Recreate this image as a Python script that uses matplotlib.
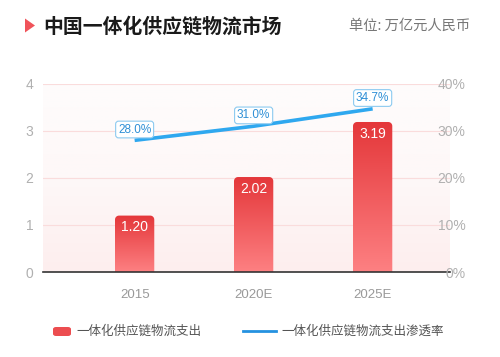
import numpy as np
import matplotlib
matplotlib.use("Agg")
import matplotlib.pyplot as plt
from matplotlib.patches import FancyBboxPatch, Polygon, PathPatch
from matplotlib.path import Path
from matplotlib.colors import LinearSegmentedColormap
from matplotlib.lines import Line2D

plt.rcParams['font.family'] = ['Noto Sans CJK SC', 'DejaVu Sans']

categories = ['2015', '2020E', '2025E']
spend = [1.20, 2.02, 3.19]
penetration = [28.0, 31.0, 34.7]
left_ticks = [0, 1, 2, 3, 4]
right_ticks = [0, 10, 20, 30, 40]
title = '中国一体化供应链物流市场'
unit = '单位: 万亿元人民币'
legend_bar = '一体化供应链物流支出'
legend_line = '一体化供应链物流支出渗透率'

NUM = ['Liberation Sans', 'DejaVu Sans']

fig = plt.figure(figsize=(5, 3.57), dpi=100)
fig.patch.set_facecolor('white')
ax = fig.add_axes([0.086, 0.238, 0.814, 0.527])
ax2 = ax.twinx()

x = np.arange(len(categories))
xlim = (-0.77, 2.65)
ylim = (0, 4)

# background gradient (white at top -> light pink at bottom)
bg = LinearSegmentedColormap.from_list('bg', ['#fefcfc', '#fef8f8', '#fdeeee'])
ax.imshow(np.linspace(0, 1, 200).reshape(-1, 1), extent=[xlim[0], xlim[1], ylim[0], ylim[1]],
          origin='upper', aspect='auto', cmap=bg, zorder=0)
ax.set_xlim(*xlim)
ax.set_ylim(*ylim)
for t in left_ticks[1:]:
    ax.axhline(t, color='#fadcdc', lw=0.8, zorder=1)

# bars with vertical gradient and rounded top corners
bar_cmap = LinearSegmentedColormap.from_list('bar', ['#e4373a', '#fd8082'])
w = 0.33
ax_w_px = 0.814 * 500
ax_h_px = 0.527 * 357
rx = 4.0 * (xlim[1] - xlim[0]) / ax_w_px
ry = 4.0 * (ylim[1] - ylim[0]) / ax_h_px


def rounded_top_path(x0, x1, top):
    pts = [(x0, 0), (x1, 0), (x1, top - ry)]
    th = np.linspace(0, np.pi / 2, 8)
    for t in th:
        pts.append((x1 - rx + rx * np.cos(t), top - ry + ry * np.sin(t)))
    for t in th:
        pts.append((x0 + rx + rx * np.cos(np.pi / 2 + t), top - ry + ry * np.sin(np.pi / 2 + t)))
    pts.append((x0, 0))
    codes = [Path.MOVETO] + [Path.LINETO] * (len(pts) - 2) + [Path.CLOSEPOLY]
    return Path(pts, codes)


for xi, v in zip(x, spend):
    im = ax.imshow(np.linspace(0, 1, 200).reshape(-1, 1),
                   extent=[xi - w / 2, xi + w / 2, 0, v], origin='upper',
                   aspect='auto', cmap=bar_cmap, zorder=2)
    clip = PathPatch(rounded_top_path(xi - w / 2, xi + w / 2, v), transform=ax.transData,
                     facecolor='none', edgecolor='none')
    ax.add_patch(clip)
    im.set_clip_path(clip)
    ax.text(xi, v - 0.1, f'{v:.2f}', ha='center', va='top', color='white',
            fontsize=10, zorder=4, family=NUM)
ax.set_xlim(*xlim)
ax.set_ylim(*ylim)

# line on right axis
ax2.plot(x, penetration, color='#2fa8ef', lw=2.6, solid_capstyle='butt', zorder=5)
for xi, p in zip(x, penetration):
    ax2.text(xi, p + 2.3, f'{p:.1f}%', ha='center', va='center', color='#2e8fd6',
             fontsize=8.5, family=NUM, zorder=6,
             bbox=dict(boxstyle='round,pad=0.2,rounding_size=0.25', fc='white',
                       ec='#8ccaf0', lw=0.8))

ax.set_zorder(1)
ax2.set_zorder(2)
ax2.patch.set_visible(False)

ax.set_xticks(x)
ax.set_xticklabels(categories, family=NUM)
ax.set_yticks(left_ticks)
ax.set_yticklabels([str(t) for t in left_ticks], family=NUM)
ax2.set_yticks(right_ticks)
ax2.set_yticklabels([f'{t}%' for t in right_ticks], family=NUM, ha='right')
for a in (ax, ax2):
    a.tick_params(length=0, colors='#b0b0b0', labelsize=10)
    for s in a.spines.values():
        s.set_visible(False)
ax.tick_params(axis='x', pad=12, colors='#999999', labelsize=9.5)
ax.tick_params(axis='y', pad=7)
ax2.tick_params(axis='y', pad=11)
ax.spines['bottom'].set_visible(True)
ax.spines['bottom'].set_color('#333333')
ax.spines['bottom'].set_linewidth(1.2)

# title
fig.patches.append(Polygon([[25 / 500, 1 - 18.5 / 357], [25 / 500, 1 - 32.5 / 357], [35 / 500, 1 - 25.5 / 357]],
                           closed=True, transform=fig.transFigure, facecolor='#f0535a',
                           edgecolor='none'))
fig.text(43 / 500, 1 - 26 / 357, title, fontsize=14.3, fontweight='bold', color='#1a1a1a',
         va='center', ha='left')
fig.text(470 / 500, 1 - 26 / 357, unit, fontsize=10.3, color='#777777', va='center', ha='right')

# legend
fig.patches.append(FancyBboxPatch((53 / 500, 1 - 336 / 357), 18 / 500, 9 / 357,
                                  boxstyle='round,pad=0,rounding_size=0.006',
                                  transform=fig.transFigure, facecolor='#ec4d50',
                                  edgecolor='none'))
fig.text(76 / 500, 1 - 331.5 / 357, legend_bar, fontsize=9, color='#555555', va='center')
fig.lines.append(Line2D([243 / 500, 276 / 500], [1 - 331 / 357, 1 - 331 / 357],
                        transform=fig.transFigure, color='#2592e0', lw=2))
fig.text(281 / 500, 1 - 331.5 / 357, legend_line, fontsize=9, color='#555555', va='center')

fig.savefig('out.png', dpi=100)
